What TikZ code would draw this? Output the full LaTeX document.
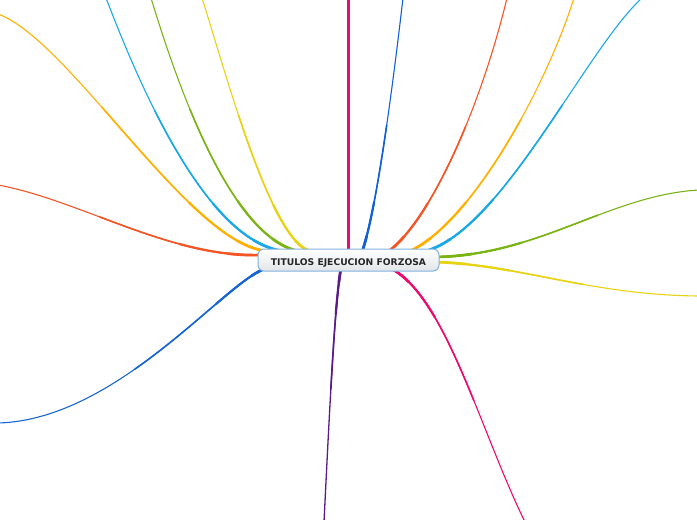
\documentclass[tikz,border=0pt]{standalone}
\usepackage{fontspec}
\newfontfamily\nodefont{DejaVu Sans}
\definecolor{cpink}{RGB}{236,10,112}
\definecolor{cdblue}{RGB}{16,96,216}
\definecolor{cred}{RGB}{245,84,36}
\definecolor{corange}{RGB}{255,176,0}
\definecolor{clblue}{RGB}{24,168,232}
\definecolor{cgreen}{RGB}{122,180,20}
\definecolor{cyellow}{RGB}{232,210,20}
\definecolor{cpurple}{RGB}{90,26,136}
\definecolor{cblue}{RGB}{22,100,214}
\definecolor{cborder}{RGB}{128,178,222}
\definecolor{cfill}{RGB}{226,229,232}
\newcommand\brch[8][1.1]{%
  \draw[#2, line width=#1pt, line cap=round] (#3) .. controls (#4,#5) and (#6,#7) .. (#8);
  \foreach \tm/\ww in {0.6/1.6, 0.3/2.2, 0.12/2.7} {%
    \begin{pgfscope}
    \pgfsetstrokecolor{#2}\pgfsetlinewidth{\ww pt}\pgfsetroundcap
    \pgfpathcurvebetweentime{0}{\tm}{\pgfpointanchor{#3}{center}}{\pgfpointxy{#4}{#5}}{\pgfpointxy{#6}{#7}}{\pgfpointanchor{#8}{center}}
    \pgfusepath{stroke}
    \end{pgfscope}
  }%
}
\tikzset{
  topic/.style={draw=cborder, line width=1pt, rounded corners=6pt,
    top color=white, bottom color=cfill, minimum width=181pt, minimum height=22pt,
    inner sep=0pt, text height=10pt, text depth=0pt, text=black!85,
    font=\nodefont\bfseries\fontsize{9.2}{11}\selectfont}
}
\begin{document}
\begin{tikzpicture}[x=1pt,y=-1pt]
\useasboundingbox (0,0) rectangle (697,520);
% start points
\coordinate (s1) at (348.5,252);
\coordinate (s2) at (362,252);
\coordinate (s3) at (389,251);
\coordinate (s4) at (408,252);
\coordinate (s5) at (422,252);
\coordinate (s6) at (436,257);
\coordinate (s7) at (436,262);
\coordinate (s8) at (390,268);
\coordinate (s9) at (341,268);
\coordinate (s10) at (268,268);
\coordinate (s11) at (261,255);
\coordinate (s12) at (267,251);
\coordinate (s13) at (283,251);
\coordinate (s14) at (298,251);
\coordinate (s15) at (310,251);
% end points
\coordinate (e1) at (348.5,-2);
\coordinate (e2) at (403,-2);
\coordinate (e3) at (507,-2);
\coordinate (e4) at (574,-2);
\coordinate (e5) at (642,-2);
\coordinate (e6) at (699,190);
\coordinate (e7) at (699,296);
\coordinate (e8) at (525,522);
\coordinate (e9) at (324,522);
\coordinate (e10) at (-2,423);
\coordinate (e11) at (-2,185);
\coordinate (e12) at (-2,14);
\coordinate (e13) at (106,-2);
\coordinate (e14) at (151,-2);
\coordinate (e15) at (202,-2);

\draw[cpink, line width=2.2pt] (s1) -- (e1);
\brch{cdblue}{s2}{375}{215}{390}{110}{e2}
\brch{cred}{s3}{430}{220}{480}{110}{e3}
\brch{corange}{s4}{470}{225}{545}{90}{e4}
\brch{clblue}{s5}{500}{235}{585}{50}{e5}
\brch{cgreen}{s6}{540}{255}{610}{195}{e6}
\brch{cyellow}{s7}{520}{265}{590}{295}{e7}
\brch{cpink}{s8}{445}{295}{480}{430}{e8}
\brch[1.3]{cpurple}{s9}{335}{300}{330}{400}{e9}
\brch{cblue}{s10}{230}{275}{120}{420}{e10}
\brch{cred}{s11}{170}{258}{80}{200}{e11}
\brch{corange}{s12}{190}{245}{70}{40}{e12}
\brch{clblue}{s13}{200}{240}{130}{60}{e13}
\brch{cgreen}{s14}{225}{235}{170}{60}{e14}
\brch{cyellow}{s15}{270}{240}{225}{70}{e15}

\node[topic] (c) at (348.5,260) {TITULOS EJECUCION FORZOSA};
\end{tikzpicture}
\end{document}
